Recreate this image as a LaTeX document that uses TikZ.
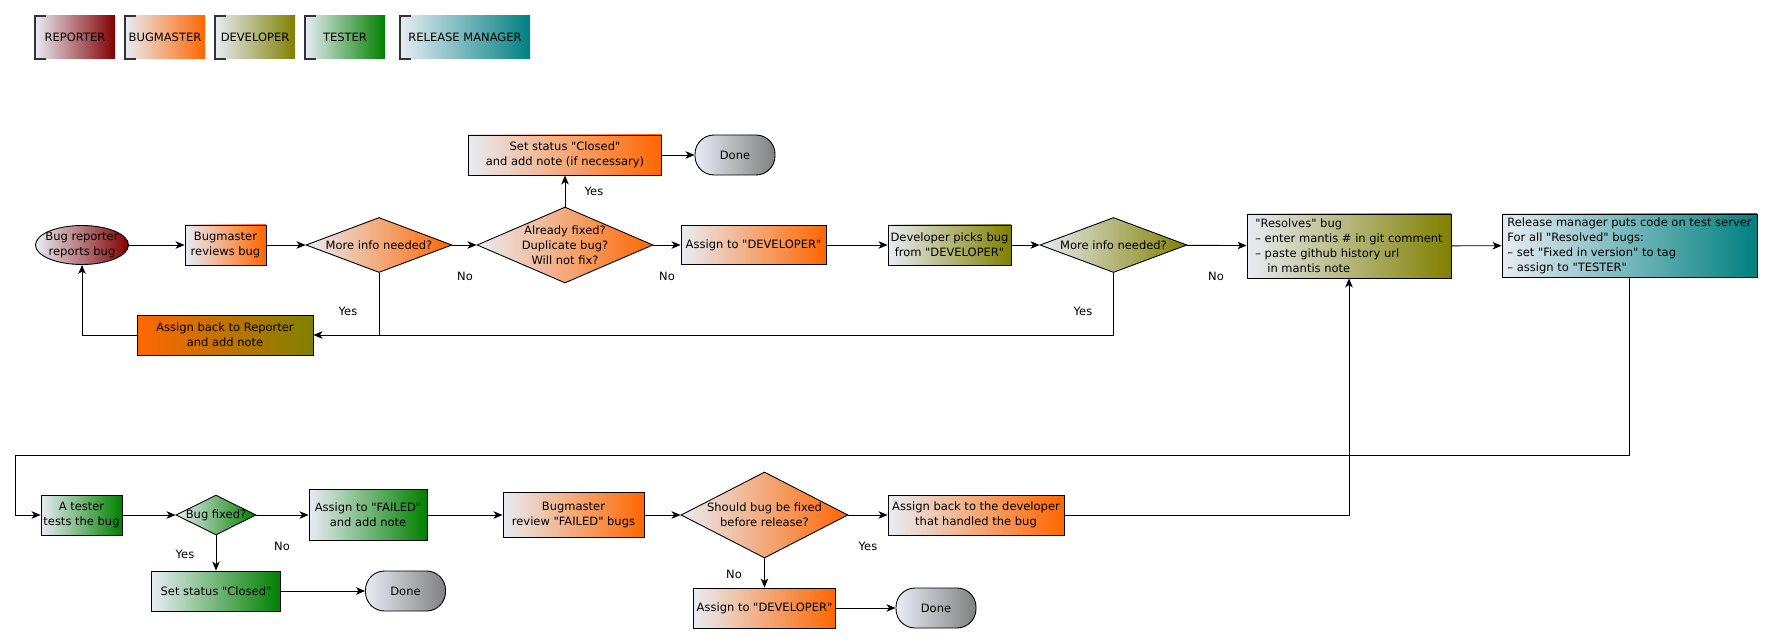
\documentclass[tikz,border=0pt]{standalone}
\usepackage{fontspec}
\setmainfont{DejaVu Sans}[Ligatures=TeXOff]
\usetikzlibrary{shapes.geometric,arrows.meta}

\definecolor{paleblue}{RGB}{232,236,244}
\definecolor{reporter}{RGB}{128,0,0}
\definecolor{bugmaster}{RGB}{255,102,0}
\definecolor{developer}{RGB}{128,128,0}
\definecolor{tester}{RGB}{0,128,0}
\definecolor{release}{RGB}{0,128,128}
\definecolor{donegray}{RGB}{128,128,128}

\begin{document}
\begin{tikzpicture}[x=1pt,y=-1pt,
  every node/.style={font=\fontsize{11.5}{15}\selectfont},
  task/.style={rectangle,draw=black,line width=0.9pt,inner sep=0pt,align=center,left color=paleblue},
  decision/.style={diamond,draw=black,line width=0.9pt,inner sep=-3pt,align=center,left color=paleblue},
  origin/.style={ellipse,draw=black,line width=0.9pt,inner sep=-4pt,align=center,left color=paleblue},
  finish/.style={rectangle,rounded corners=19pt,draw=black,line width=0.9pt,minimum width=80pt,minimum height=40pt,left color=paleblue,right color=donegray},
  swatch/.style={rectangle,minimum height=43pt,left color=paleblue},
  bracket/.style={draw=black!80,line width=2pt},
  flow/.style={-{Stealth[length=9pt,width=7.5pt,inset=2.5pt]},line width=0.9pt},
  lbl/.style={inner sep=0pt}]
  \useasboundingbox (0,0) rectangle (1772,644);

  % legend
  \node (lrep) at (75,37.5) [swatch,minimum width=80pt,right color=reporter] {REPORTER};
  \node (lbm) at (165,37.5) [swatch,minimum width=80pt,right color=bugmaster] {BUGMASTER};
  \node (ldev) at (255,37.5) [swatch,minimum width=80pt,right color=developer] {DEVELOPER};
  \node (ltst) at (345,37.5) [swatch,minimum width=80pt,right color=tester] {TESTER};
  \node (lrm) at (465,37.5) [swatch,minimum width=130pt,right color=release] {RELEASE MANAGER};
  \draw[bracket] ([xshift=11pt]lrep.north west) -- (lrep.north west) -- (lrep.south west) -- ([xshift=11pt]lrep.south west);
  \draw[bracket] ([xshift=11pt]lbm.north west) -- (lbm.north west) -- (lbm.south west) -- ([xshift=11pt]lbm.south west);
  \draw[bracket] ([xshift=11pt]ldev.north west) -- (ldev.north west) -- (ldev.south west) -- ([xshift=11pt]ldev.south west);
  \draw[bracket] ([xshift=11pt]ltst.north west) -- (ltst.north west) -- (ltst.south west) -- ([xshift=11pt]ltst.south west);
  \draw[bracket] ([xshift=11pt]lrm.north west) -- (lrm.north west) -- (lrm.south west) -- ([xshift=11pt]lrm.south west);

  % upper flow
  \node (rep) at (82,245) [origin,minimum width=93pt,minimum height=39pt,right color=reporter] {Bug reporter\\reports bug};
  \node (bmrv) at (225.5,245) [task,minimum width=81pt,minimum height=40pt,right color=bugmaster] {Bugmaster\\reviews bug};
  \node (q1) at (379,245) [decision,aspect=2.65,minimum width=146pt,minimum height=55pt,right color=bugmaster] {More info needed?};
  \node (q2) at (565,245) [decision,aspect=2.32,minimum width=176pt,minimum height=76pt,right color=bugmaster] {Already fixed?\\Duplicate bug?\\Will not fix?};
  \node (closed) at (565,155) [task,minimum width=193pt,minimum height=40pt,right color=bugmaster] {Set status "Closed"\\and add note (if necessary)};
  \node (done) at (735,155) [finish] {Done};
  \node (adev) at (753.5,245) [task,minimum width=145pt,minimum height=39pt,right color=bugmaster] {Assign to "DEVELOPER"};
  \node (pick) at (949.5,245) [task,minimum width=123pt,minimum height=40pt,right color=developer] {Developer picks bug\\from "DEVELOPER"};
  \node (q3) at (1113.5,245) [decision,aspect=2.67,minimum width=147pt,minimum height=55pt,right color=developer] {More info needed?};
  \node (res) at (1349,246) [task,align=left,minimum width=204pt,minimum height=64pt,right color=developer] {"Resolves" bug\\\textendash{} enter mantis \# in git comment\\\textendash{} paste github history url\\\hspace*{12pt}in mantis note};
  \node (rel) at (1629.5,245.5) [task,align=left,minimum width=255pt,minimum height=63pt,right color=release] {Release manager puts code on test server\\For all "Resolved" bugs:\\\textendash{} set "Fixed in version" to tag\\\textendash{} assign to "TESTER"};
  \node (back) at (225,335) [task,minimum width=176pt,minimum height=40pt,left color=bugmaster,right color=developer] {Assign back to Reporter\\and add note};

  % lower flow
  \node (tst) at (81.5,515) [task,minimum width=81pt,minimum height=40pt,right color=tester] {A tester\\tests the bug};
  \node (q5) at (216,515) [decision,aspect=2,minimum width=80pt,minimum height=40pt,right color=tester] {Bug fixed?};
  \node (fail) at (368,515) [task,minimum width=118pt,minimum height=51pt,right color=tester] {Assign to "FAILED"\\and add note};
  \node (closed2) at (216,591) [task,minimum width=129pt,minimum height=40pt,right color=tester] {Set status "Closed"};
  \node (done2) at (405.5,591) [finish] {Done};
  \node (bmfail) at (573.5,515) [task,minimum width=141pt,minimum height=45pt,right color=bugmaster] {Bugmaster\\review "FAILED" bugs};
  \node (q4) at (764.5,515) [decision,aspect=1.94,minimum width=167pt,minimum height=86pt,right color=bugmaster] {Should bug be fixed\\before release?};
  \node (aback) at (976,515) [task,minimum width=176pt,minimum height=40pt,right color=bugmaster] {Assign back to the developer\\that handled the bug};
  \node (adev2) at (764.5,608) [task,minimum width=142pt,minimum height=40pt,right color=bugmaster] {Assign to "DEVELOPER"};
  \node (done3) at (936,608) [finish] {Done};

  % yes / no
  \node (no1) at (465,276) [lbl] {No};
  \node (yes1) at (348,311) [lbl] {Yes};
  \node (yes2) at (594,191) [lbl] {Yes};
  \node (no2) at (667,276) [lbl] {No};
  \node (no3) at (1216,276) [lbl] {No};
  \node (yes3) at (1083,311) [lbl] {Yes};
  \node (no5) at (282,546) [lbl] {No};
  \node (yes5) at (185,554) [lbl] {Yes};
  \node (yes4) at (868,546) [lbl] {Yes};
  \node (no4) at (734,574) [lbl] {No};

  \draw[flow] (rep) -- (bmrv);
  \draw[flow] (bmrv) -- (q1);
  \draw[flow] (q1) -- (q2);
  \draw[flow] (q2) -- (closed);
  \draw[flow] (closed) -- (done);
  \draw[flow] (q2) -- (adev);
  \draw[flow] (adev) -- (pick);
  \draw[flow] (pick) -- (q3);
  \draw[flow] (q3) -- (res);
  \draw[flow] (res) -- (rel);
  \draw[line width=0.9pt] (q1.south) -- (q1.south |- back.east);
  \draw[flow] (q3.south) |- (back.east);
  \draw[flow] (back.west) -| (rep.south);
  \coordinate (turn) at (15,455);
  \draw[flow] (rel.south) |- (turn) |- (tst.west);
  \draw[flow] (tst) -- (q5);
  \draw[flow] (q5) -- (fail);
  \draw[flow] (q5) -- (closed2);
  \draw[flow] (closed2) -- (done2);
  \draw[flow] (fail) -- (bmfail);
  \draw[flow] (bmfail) -- (q4);
  \draw[flow] (q4) -- (aback);
  \draw[flow] (q4) -- (adev2);
  \draw[flow] (adev2) -- (done3);
  \draw[flow] (aback.east) -| (res.south);
\end{tikzpicture}
\end{document}
